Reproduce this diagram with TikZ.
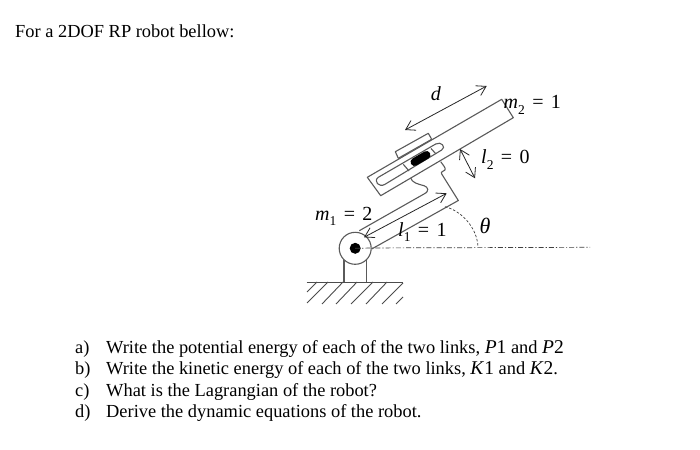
\documentclass[tikz,border=0pt]{standalone}
\usepackage{fontspec}
\setmainfont{Liberation Serif}
\usetikzlibrary{arrows.meta}
\definecolor{link}{HTML}{5A5A5A}
\newcommand{\vr}[1]{\textit{#1}}
\newcommand{\sbs}[1]{\raisebox{-0.28em}{\fontsize{13.5}{14}\selectfont #1}}
\newcommand{\eqs}{\hspace{0.12em} = \hspace{0.12em}}
\tikzset{
 part/.style={draw=link,line width=1.1pt,line join=round},
 dim/.style={draw=black!85,line width=0.8pt,{Straight Barb[length=9pt,width=11pt,line width=0.8pt]}-{Straight Barb[length=9pt,width=11pt,line width=0.8pt]}},
 lab/.style={inner sep=0pt,font=\fontsize{20}{22}\selectfont},
 txt/.style={inner sep=0pt,anchor=base west,font=\fontsize{18.4}{20}\selectfont},
 hatch/.style={draw=black!70,line width=0.9pt}
}
\begin{document}
\begin{tikzpicture}[x=1pt,y=-1pt]
\useasboundingbox[fill=white] (0,0) rectangle (700,449);
% title and questions
\node[txt] (title) at (15,38) {For a 2DOF RP robot bellow:};
\node[txt] (qa) at (75,353) {a)};
\node[txt] (qat) at (106,353) {Write the potential energy of each of the two links, {\fontsize{19.5}{20}\selectfont\vr{P}1} and {\fontsize{19.5}{20}\selectfont\vr{P}2}};
\node[txt] (qb) at (75,374) {b)};
\node[txt] (qbt) at (106,374) {Write the kinetic energy of each of the two links, {\fontsize{19.5}{20}\selectfont\vr{K}1} and {\fontsize{19.5}{20}\selectfont\vr{K}2}.};
\node[txt] (qc) at (75,396) {c)};
\node[txt] (qct) at (106,396) {What is the Lagrangian of the robot?};
\node[txt] (qd) at (75,417) {d)};
\node[txt] (qdt) at (106,417) {Derive the dynamic equations of the robot.};
% ground
\draw[hatch] (306.7,282) -- (403.3,282);
\foreach \a/\b/\c/\d in {317/282/307/292, 328/282/307/303, 343/282/322/304, 357/282/336/304, 373/282/351/304, 387/282/366/304, 403/283/382/304, 403/297/396/304}{
 \draw[hatch] (\a,\b) -- (\c,\d);
}
% pedestal
\draw[part] (344,258) -- (344,282) (366.3,258) -- (366.3,282);
% dash-dot axis
\coordinate (axisstart) at (355,248);
\coordinate (axisend) at (590,247.3);
\draw[draw=black!75,line width=0.7pt,dash pattern=on 5pt off 2pt on 1.2pt off 2pt] (axisstart) -- (axisend);
% lower link
\draw[part] (359.3,230.7) -- (424,194)
 .. controls (430,191) and (428,187) .. (424,185.7)
 .. controls (418,184) and (412,183) .. (410.3,177.3);
\draw[part] (440.7,161.7) .. controls (443,165) and (446,168) .. (445,170)
 .. controls (444,172) and (440,171) .. (441.7,174)
 -- (458.3,200.5) -- (371.7,249);
% upper link
\draw[part,fill=white] (395.3,151.7) -- (428.3,133.3) -- (431.7,139.3) -- (398.3,158.3) -- cycle;
\draw[part,fill=white] (367.3,177.3) -- (501.7,99.3) -- (513.3,117.7) -- (380.7,195.7) -- cycle;
% slot
\draw[part] (378.3,177.3) -- (435.7,144) .. controls (441,141) and (446.5,147) .. (441.7,150)
 -- (385,184.3) .. controls (379,188) and (373,181) .. (378.3,177.3);
\draw[part] (403.3,164.3) -- (409,171);
\draw[part] (431,148.5) -- (436,154);
\draw[black,line width=8pt,line cap=round] (414.5,162) -- (426.5,155);
% hinge
\node[circle,draw=link,line width=1.1pt,fill=white,minimum size=32pt,inner sep=0pt] (hinge) at (355.2,248.3) {};
\node[circle,fill=black,minimum size=11pt,inner sep=0pt] (pin) at (355.2,248.3) {};
\draw[draw=black!75,line width=0.7pt,dash pattern=on 5pt off 2pt on 1.2pt off 2pt] (pin.center) -- (372,248);
% angle arc
\coordinate (arcstart) at (445,206.7);
\coordinate (arcend) at (478,246.7);
\draw[draw=black!75,line width=0.7pt,dash pattern=on 2.5pt off 1.8pt] (arcstart) .. controls (462,211) and (477,228) .. (arcend);
% dimensions
\coordinate (da) at (405,130); \coordinate (db) at (486.7,86);
\draw[dim] (da) -- (db);
\coordinate (la) at (364,237.3); \coordinate (lb) at (446.7,193.3);
\draw[dim] (la) -- (lb);
\coordinate (ma) at (460,149); \coordinate (mb) at (475,178.3);
\draw[dim] (ma) -- (mb);
% labels
\node[lab] (dl) at (436,94) {\vr{d}};
\node[lab,anchor=base west] (m2) at (503.5,109) {\vr{m}\sbs{2}\eqs 1};
\node[lab,anchor=base west] (l2) at (481,164) {\vr{l}\sbs{2}\eqs 0};
\node[lab,anchor=base west] (m1) at (315,220) {\vr{m}\sbs{1}\eqs 2};
\node[lab,anchor=base west] (l1) at (398,236) {\vr{l}\sbs{1}\eqs 1};
\node[lab] (th) at (485,226) {\fontsize{22}{24}\selectfont\vr{θ}};
\end{tikzpicture}
\end{document}
